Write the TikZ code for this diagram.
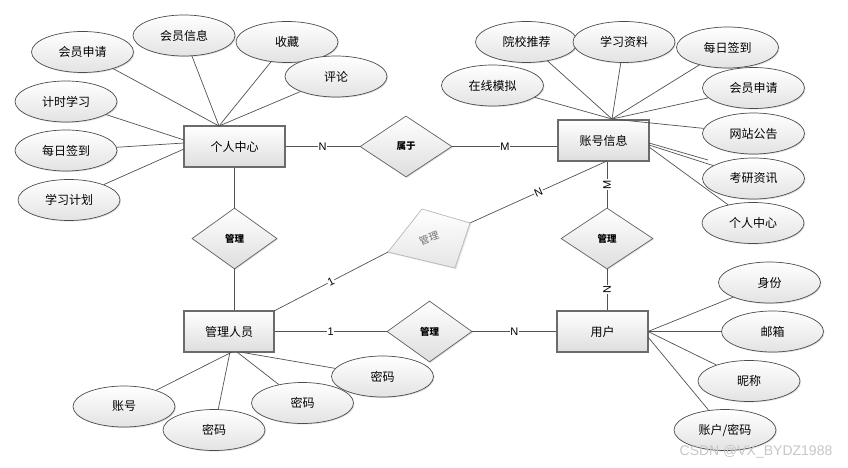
\documentclass[tikz,border=0pt]{standalone}
\usepackage{fontspec}
\setmainfont{Liberation Sans}
\newfontfamily\cjk{Noto Sans CJK SC}
\usetikzlibrary{shapes.geometric,shadows}
\tikzset{
  conn/.style={draw=black!68, line width=0.7pt},
  entbox/.style={rectangle, draw=black!58, line width=1.2pt, top color=white, bottom color=black!13,
    minimum width=#1, minimum height=41pt, inner sep=0pt,
    font=\cjk\fontsize{12}{12}\selectfont,
    drop shadow={shadow xshift=1.2pt, shadow yshift=-1.2pt, fill=black!30, opacity=0.5}},
  attr/.style={ellipse, draw=black!70, line width=0.7pt, top color=white, bottom color=black!11,
    minimum width=102pt, minimum height=41pt, inner sep=0pt,
    font=\cjk\fontsize{12}{12}\selectfont,
    drop shadow={shadow xshift=1pt, shadow yshift=-1pt, fill=black!25, opacity=0.5}},
  rel/.style={diamond, draw=black!62, line width=0.7pt, top color=white, bottom color=black!13,
    minimum width=#1, minimum height=61pt, inner sep=0pt,
    font=\cjk\bfseries\fontsize{9.5}{9.5}\selectfont,
    drop shadow={shadow xshift=1pt, shadow yshift=-1pt, fill=black!25, opacity=0.5}},
  card/.style={fill=white, inner sep=0.6pt, font=\fontsize{11}{11}\selectfont, text=black}
}
\begin{document}
\begin{tikzpicture}[x=1pt,y=-1pt]
\useasboundingbox (0,0) rectangle (848,468);
\fill[white] (0,0) rectangle (848,468);

% entities
\node[entbox=101pt] (pc) at (234.5,146.5) {个人中心};
\node[entbox=91pt]  (zh) at (603.5,140.5) {账号信息};
\node[entbox=90pt]  (mg) at (229,331.5) {管理人员};
\node[entbox=91pt]  (yh) at (602.5,331.5) {用户};

% relationships
\node[rel=92pt] (d1) at (406,146.5) {属于};
\node[rel=85pt] (d2) at (234.5,238.5) {管理};
\node[rel=85pt] (d5) at (429.5,331.5) {管理};
\node[rel=92pt] (d4) at (607,238.5) {管理};

% tilted relationship
\coordinate (rt) at (422,209);
\coordinate (rr) at (470,223);
\coordinate (rb) at (455,268);
\coordinate (rl) at (388,252);
\fill[black!25, opacity=0.4] ([shift={(1.2,1.2)}]rt) -- ([shift={(1.2,1.2)}]rr) -- ([shift={(1.2,1.2)}]rb) -- ([shift={(1.2,1.2)}]rl) -- cycle;
\shade[top color=white, bottom color=black!10, draw=black!28, line width=0.7pt] (rt) -- (rr) -- (rb) -- (rl) -- cycle;
\node[font=\cjk\fontsize{10}{10}\selectfont, text=black!55, rotate=20] (d3) at (429,238) {管理};

% attributes of 个人中心
\node[attr] (a1) at (82.5,52) {会员申请};
\node[attr] (a2) at (184,35.5) {会员信息};
\node[attr] (a3) at (287,42) {收藏};
\node[attr] (a4) at (336,76.5) {评论};
\node[attr] (a5) at (66,101.5) {计时学习};
\node[attr] (a6) at (66,150.5) {每日签到};
\node[attr] (a7) at (69,200) {学习计划};

% attributes of 账号信息
\node[attr] (b1) at (526.5,42) {院校推荐};
\node[attr] (b2) at (624,42) {学习资料};
\node[attr] (b3) at (727.5,47.5) {每日签到};
\node[attr] (b4) at (492.5,85.5) {在线模拟};
\node[attr] (b5) at (753.5,88) {会员申请};
\node[attr] (b6) at (753.5,133.5) {网站公告};
\node[attr] (b7) at (753.5,178.5) {考研资讯};
\node[attr] (b8) at (753,223) {个人中心};

% attributes of 管理人员
\node[attr] (c1) at (124,406.5) {账号};
\node[attr] (c2) at (214,430) {密码};
\node[attr] (c3) at (302.5,403) {密码};
\node[attr] (c4) at (382.5,376.5) {密码};

% attributes of 用户
\node[attr] (e1) at (769.5,282.5) {身份};
\node[attr] (e2) at (772.5,331.5) {邮箱};
\node[attr] (e3) at (749,381) {昵称};
\node[attr] (e4) at (725,430) {账户/密码};

% anchor points
\coordinate (pcT) at (219,126);
\coordinate (pcL1) at (184,140);
\coordinate (pcL2) at (184,143);
\coordinate (pcL3) at (184,149);
\coordinate (zhT) at (612,119);
\coordinate (zhR1) at (649,143);
\coordinate (zhR2) at (649,145);
\coordinate (zhR3) at (649,147);
\coordinate (zfree) at (708,160);
\coordinate (zhB) at (607,161);
\coordinate (mgB1) at (232,352);
\coordinate (mgB2) at (230,352);
\coordinate (mgB3) at (237,352);
\coordinate (mgB4) at (240,352);
\coordinate (mgTR) at (274,311);
\coordinate (yhR1) at (648,331.5);
\coordinate (yhR2) at (648,337);

% attribute connectors
\draw[conn] (a1) -- (pcT);
\draw[conn] (a2) -- (pcT);
\draw[conn] (a3) -- (pcT);
\draw[conn] (a4) -- (pcT);
\draw[conn] (a5) -- (pcL1);
\draw[conn] (a6) -- (pcL2);
\draw[conn] (a7) -- (pcL3);

\draw[conn] (b1) -- (zhT);
\draw[conn] (b2) -- (zhT);
\draw[conn] (b3) -- (zhT);
\draw[conn] (b4) -- (zhT);
\draw[conn] (b5) -- (zhT);
\draw[conn] (zhT) -- (b6);
\draw[conn] (zhR1) -- (zfree);
\draw[conn] (zhR2) -- (b7);
\draw[conn] (zhR3) -- (b8);

\draw[conn] (c1) -- (mgB1);
\draw[conn] (c2) -- (mgB2);
\draw[conn] (c3) -- (mgB3);
\draw[conn] (c4) -- (mgB4);

\draw[conn] (yhR1) -- (e1);
\draw[conn] (yhR1) -- (e2);
\draw[conn] (yhR1) -- (e3);
\draw[conn] (yhR2) -- (e4);

% relationship connectors
\draw[conn] (pc.east) -- node[card]{N} (d1.west);
\draw[conn] (d1.east) -- node[card]{M} (d1.east -| zh.west);
\draw[conn] (d2.north) -- (d2.north |- pc.south);
\draw[conn] (d2.south) -- (d2.south |- mg.north);
\draw[conn] (mg.east) -- node[card]{1} (d5.west);
\draw[conn] (d5.east) -- node[card]{N} (yh.west);
\draw[conn] (d4.north) -- node[card, rotate=90]{M} (d4.north |- zh.south);
\draw[conn] (d4.south) -- node[card, rotate=90]{N} (d4.south |- yh.north);
\draw[conn] (mgTR) -- node[card, rotate=27]{1} (rl);
\draw[conn] (rr) -- node[card, rotate=24]{N} (zhB);

% watermark
\node[text=black!22, font=\fontsize{14}{14}\selectfont, anchor=center] (wm) at (756,452) {CSDN @VX\_BYDZ1988};
\end{tikzpicture}
\end{document}
